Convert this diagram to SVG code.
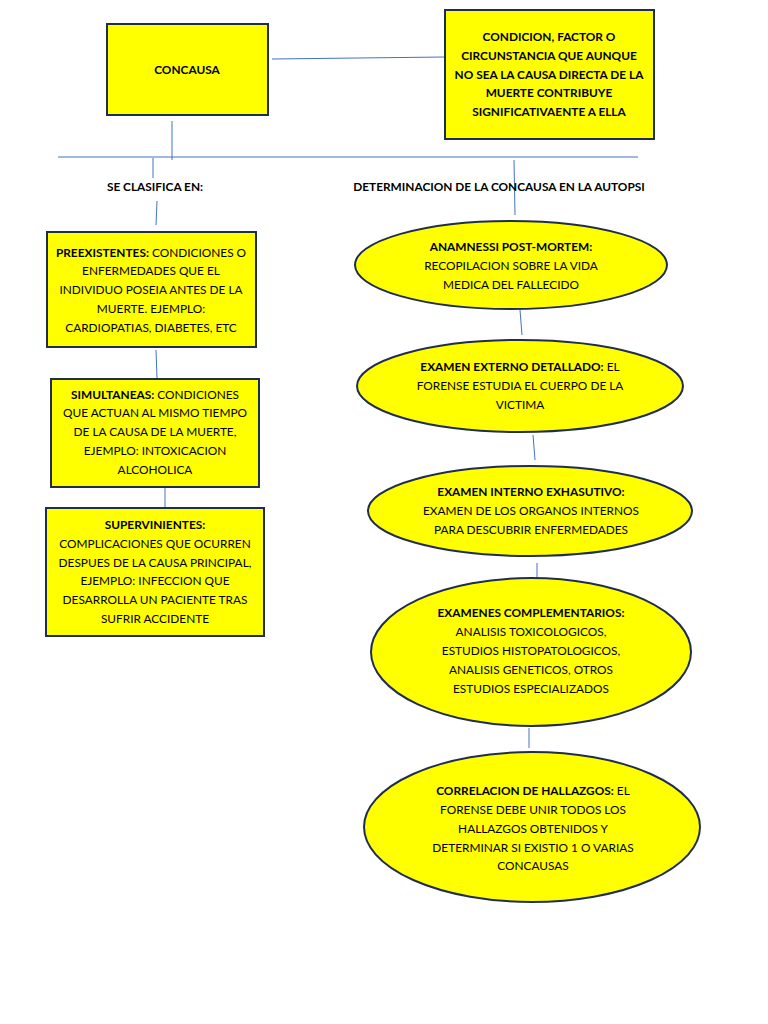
<svg xmlns="http://www.w3.org/2000/svg" width="768" height="1024" viewBox="0 0 768 1024">
<style>
text{font-family:Lato,"Liberation Sans",sans-serif;font-size:11.85px;fill:#000;text-anchor:middle}
.b{font-weight:bold}
.box{fill:#FFFF00;stroke:#1F2D50;stroke-width:2}
.c{stroke:#4472C4;stroke-width:1;fill:none}
</style>
<rect width="768" height="1024" fill="#fff"/>
<g id="connectors">
<line class="c" x1="272" y1="59" x2="445" y2="57"/>
<line class="c" x1="172" y1="121" x2="172" y2="160"/>
<line class="c" x1="58" y1="157" x2="638" y2="157"/>
<line class="c" x1="153" y1="158" x2="153" y2="178"/>
<line class="c" x1="514" y1="160" x2="515" y2="215"/>
<line class="c" x1="157" y1="201" x2="156" y2="225"/>
<line class="c" x1="156" y1="350" x2="157" y2="378"/>
<line class="c" x1="165" y1="481" x2="165" y2="508"/>
<line class="c" x1="520" y1="310" x2="522" y2="335"/>
<line class="c" x1="533" y1="435" x2="535" y2="460"/>
<line class="c" x1="537" y1="563" x2="537" y2="578"/>
<line class="c" x1="529" y1="728" x2="529" y2="748"/>
</g>
<g id="concausa">
<rect class="box" x="107" y="24" width="161" height="91"/>
<text class="b" x="187" y="74">CONCAUSA</text>
</g>
<g id="definicion">
<rect class="box" x="445" y="10" width="209" height="129"/>
<text class="b"><tspan x="549" y="41">CONDICION, FACTOR O</tspan><tspan x="549" y="60">CIRCUNSTANCIA QUE AUNQUE</tspan><tspan x="549" y="79">NO SEA LA CAUSA DIRECTA DE LA</tspan><tspan x="549" y="97">MUERTE CONTRIBUYE</tspan><tspan x="549" y="116">SIGNIFICATIVAENTE A ELLA</tspan></text>
</g>
<g id="se-clasifica">
<text class="b" x="155" y="191">SE CLASIFICA EN:</text>
</g>
<g id="determinacion">
<text class="b" x="499" y="191">DETERMINACION DE LA CONCAUSA EN LA AUTOPSI</text>
</g>
<g id="preexistentes">
<rect class="box" x="47" y="232" width="209" height="115"/>
<text><tspan x="151" y="257"><tspan class="b">PREEXISTENTES:</tspan> CONDICIONES O</tspan><tspan x="151" y="275">ENFERMEDADES QUE EL</tspan><tspan x="151" y="294">INDIVIDUO POSEIA ANTES DE LA</tspan><tspan x="151" y="313">MUERTE. EJEMPLO:</tspan><tspan x="151" y="332">CARDIOPATIAS, DIABETES, ETC</tspan></text>
</g>
<g id="simultaneas">
<rect class="box" x="51" y="379" width="208" height="108"/>
<text><tspan x="155" y="399"><tspan class="b">SIMULTANEAS:</tspan> CONDICIONES</tspan><tspan x="155" y="417">QUE ACTUAN AL MISMO TIEMPO</tspan><tspan x="155" y="436">DE LA CAUSA DE LA MUERTE,</tspan><tspan x="155" y="455">EJEMPLO: INTOXICACION</tspan><tspan x="155" y="474">ALCOHOLICA</tspan></text>
</g>
<g id="supervinientes">
<rect class="box" x="46" y="508" width="218" height="128"/>
<text><tspan class="b" x="155" y="529">SUPERVINIENTES:</tspan><tspan x="155" y="548">COMPLICACIONES QUE OCURREN</tspan><tspan x="155" y="567">DESPUES DE LA CAUSA PRINCIPAL,</tspan><tspan x="155" y="585">EJEMPLO: INFECCION QUE</tspan><tspan x="155" y="604">DESARROLLA UN PACIENTE TRAS</tspan><tspan x="155" y="623">SUFRIR ACCIDENTE</tspan></text>
</g>
<g id="anamnesis">
<ellipse class="box" cx="511" cy="265" rx="156" ry="44"/>
<text><tspan class="b" x="511" y="251">ANAMNESSI POST-MORTEM:</tspan><tspan x="511" y="270">RECOPILACION SOBRE LA VIDA</tspan><tspan x="511" y="289">MEDICA DEL FALLECIDO</tspan></text>
</g>
<g id="externo">
<ellipse class="box" cx="520" cy="386" rx="163" ry="46"/>
<text><tspan x="520" y="371"><tspan class="b">EXAMEN EXTERNO DETALLADO:</tspan> EL</tspan><tspan x="520" y="390">FORENSE ESTUDIA EL CUERPO DE LA</tspan><tspan x="520" y="409">VICTIMA</tspan></text>
</g>
<g id="interno">
<ellipse class="box" cx="530" cy="511" rx="162" ry="45"/>
<text><tspan class="b" x="531" y="496">EXAMEN INTERNO EXHASUTIVO:</tspan><tspan x="531" y="515">EXAMEN DE LOS ORGANOS INTERNOS</tspan><tspan x="531" y="534">PARA DESCUBRIR ENFERMEDADES</tspan></text>
</g>
<g id="complementarios">
<ellipse class="box" cx="531" cy="652" rx="160" ry="74"/>
<text><tspan class="b" x="531" y="617">EXAMENES COMPLEMENTARIOS:</tspan><tspan x="531" y="636">ANALISIS TOXICOLOGICOS,</tspan><tspan x="531" y="655">ESTUDIOS HISTOPATOLOGICOS,</tspan><tspan x="531" y="674">ANALISIS GENETICOS, OTROS</tspan><tspan x="531" y="693">ESTUDIOS ESPECIALIZADOS</tspan></text>
</g>
<g id="correlacion">
<ellipse class="box" cx="532" cy="827" rx="168" ry="75"/>
<text><tspan x="533" y="795"><tspan class="b">CORRELACION DE HALLAZGOS:</tspan> EL</tspan><tspan x="533" y="814">FORENSE DEBE UNIR TODOS LOS</tspan><tspan x="533" y="833">HALLAZGOS OBTENIDOS Y</tspan><tspan x="533" y="852">DETERMINAR SI EXISTIO 1 O VARIAS</tspan><tspan x="533" y="870">CONCAUSAS</tspan></text>
</g>
</svg>
